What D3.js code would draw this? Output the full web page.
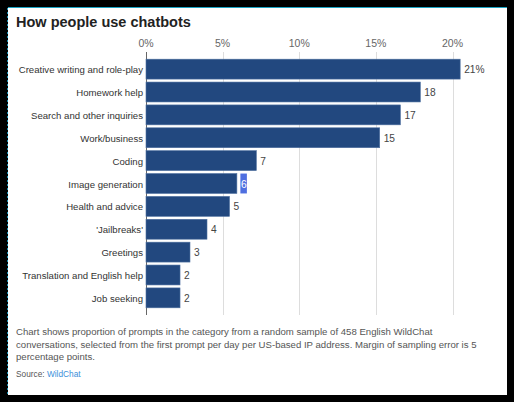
<!DOCTYPE html>
<html>
<head>
<meta charset="utf-8">
<script src="https://cdn.jsdelivr.net/npm/d3@7"></script>
<style>
  body { margin: 0; background: #000; }
  svg { display: block; font-family: "Liberation Sans", Arial, sans-serif; }
</style>
</head>
<body>
<div class="chart"></div>
<script>
var categories = ["Creative writing and role-play", "Homework help", "Search and other inquiries",
    "Work/business", "Coding", "Image generation", "Health and advice", "'Jailbreaks'",
    "Greetings", "Translation and English help", "Job seeking"]
var shares = [20.5, 17.9, 16.6, 15.25, 7.2, 5.93, 5.45, 3.98, 2.87, 2.22, 2.22]
var tickValues = [0, 5, 10, 15, 20]
var noteLines = [
    "Chart shows proportion of prompts in the category from a random sample of 458 English WildChat",
    "conversations, selected from the first prompt per day per US-based IP address. Margin of sampling error is 5",
    "percentage points."
]

var width = 514, height = 402

var svg = d3.select(".chart")
    .append("svg")
    .attr("width", width)
    .attr("height", height)

// black surround + white card
svg.append("rect")
    .attr("width", width)
    .attr("height", height)
    .attr("fill", "#000")

svg.append("rect")
    .attr("x", 8)
    .attr("y", 7)
    .attr("width", 499)
    .attr("height", 388)
    .attr("fill", "#fff")

svg.append("line")
    .attr("x1", 8).attr("x2", 507)
    .attr("y1", 7.5).attr("y2", 7.5)
    .attr("stroke", "#1aa3c2")
    .attr("stroke-width", 1)

svg.append("line")
    .attr("x1", 7.5).attr("x2", 7.5)
    .attr("y1", 8).attr("y2", 395)
    .attr("stroke", "#1a8fb0")
    .attr("stroke-dasharray", "2,2")

svg.append("text")
    .attr("x", 16)
    .attr("y", 27)
    .attr("font-size", 14.5)
    .attr("font-weight", "bold")
    .attr("fill", "#222")
    .text("How people use chatbots")

var x = d3.scaleLinear()
    .domain([0, 20])
    .range([146, 452.5])

var y = d3.scaleBand()
    .domain(categories)
    .range([58.5, 308.5])
    .paddingInner(0.13)
    .paddingOuter(0.03)

// grid lines
svg.selectAll(".grid")
    .data(tickValues)
    .enter().append("line")
    .attr("class", "grid")
    .attr("x1", function(d) { return Math.round(x(d)) + 0.5 })
    .attr("x2", function(d) { return Math.round(x(d)) + 0.5 })
    .attr("y1", 52)
    .attr("y2", 315)
    .attr("stroke", function(d) { return d === 0 ? "#666" : "#ddd" })
    .attr("stroke-width", 1)

svg.selectAll(".tickLabel")
    .data(tickValues)
    .enter().append("text")
    .attr("class", "tickLabel")
    .attr("x", function(d) { return x(d) })
    .attr("y", 47)
    .attr("text-anchor", "middle")
    .attr("font-size", 10.5)
    .attr("fill", "#666")
    .text(function(d) { return d + "%" })

var rows = d3.zip(categories, shares)

svg.selectAll(".bar")
    .data(rows)
    .enter().append("rect")
    .attr("class", "bar")
    .attr("x", x(0))
    .attr("y", function(d) { return y(d[0]) })
    .attr("width", function(d) { return x(d[1]) - x(0) })
    .attr("height", y.bandwidth())
    .attr("fill", "#22487f")
    .attr("stroke", "#4d6f9f")
    .attr("stroke-width", 0.6)

svg.selectAll(".catLabel")
    .data(rows)
    .enter().append("text")
    .attr("class", "catLabel")
    .attr("x", 143)
    .attr("y", function(d) { return y(d[0]) + y.bandwidth() / 2 + 4 })
    .attr("text-anchor", "end")
    .attr("font-size", 9.6)
    .attr("fill", "#333")
    .text(function(d) { return d[0] })

// the "6" label is shown highlighted as if selected
var imgRow = rows[5]
svg.append("rect")
    .attr("x", x(imgRow[1]) + 3.5)
    .attr("y", y(imgRow[0]))
    .attr("width", 6.5)
    .attr("height", y.bandwidth())
    .attr("fill", "#4f6fe0")

svg.selectAll(".valLabel")
    .data(rows)
    .enter().append("text")
    .attr("class", "valLabel")
    .attr("x", function(d) { return x(d[1]) + 4 })
    .attr("y", function(d) { return y(d[0]) + y.bandwidth() / 2 + 4 })
    .attr("font-size", 10.2)
    .attr("fill", function(d, i) { return i === 5 ? "#fff" : "#444" })
    .text(function(d, i) { return Math.round(d[1]) + (i === 0 ? "%" : "") })

svg.selectAll(".note")
    .data(noteLines)
    .enter().append("text")
    .attr("class", "note")
    .attr("x", 16)
    .attr("y", function(d, i) { return 335 + i * 12.5 })
    .attr("font-size", 9.6)
    .attr("fill", "#555")
    .text(function(d) { return d })

var src = svg.append("text")
    .attr("x", 16)
    .attr("y", 377)
    .attr("font-size", 8.3)
    .attr("fill", "#555")
    .text("Source: ")

src.append("tspan")
    .attr("fill", "#3b8fd9")
    .text("WildChat")
</script>
</body>
</html>
